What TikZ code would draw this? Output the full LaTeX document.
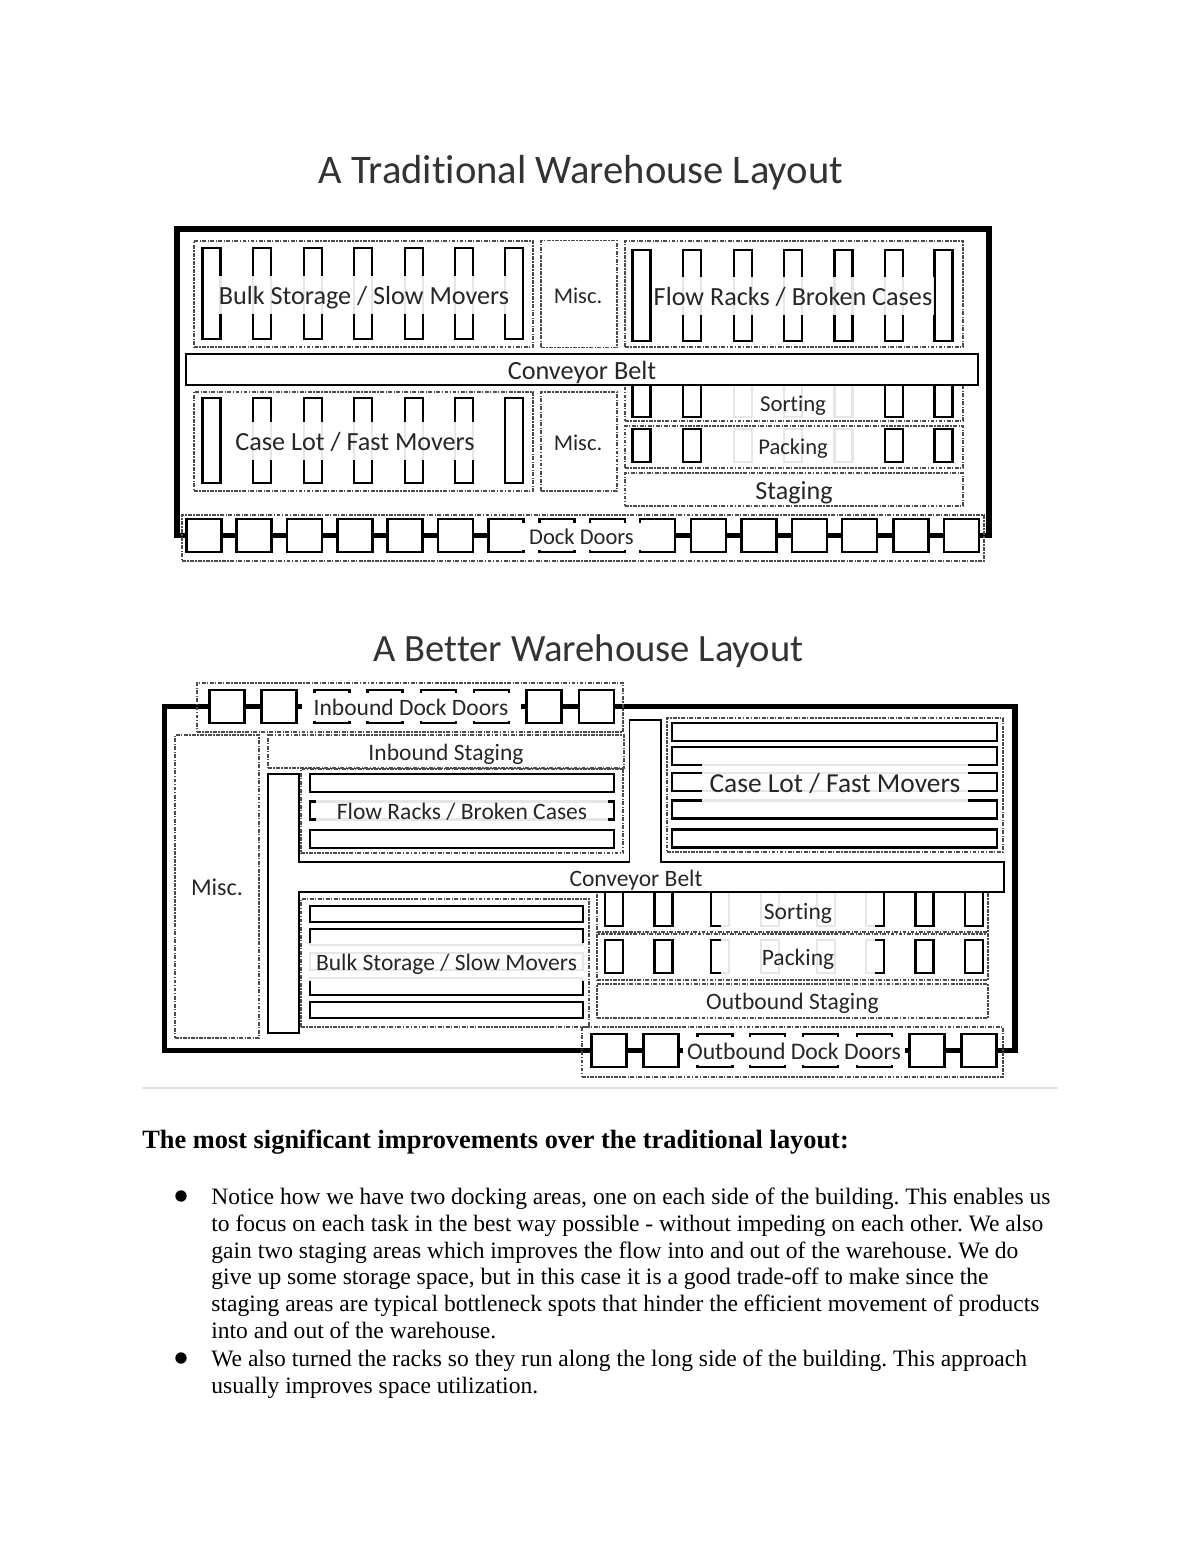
\documentclass[tikz,border=0pt]{standalone}
\usepackage{fontspec}
\setmainfont{Liberation Serif}
\newfontfamily\labelfont[Ligatures=NoCommon]{Carlito}
\usetikzlibrary{positioning}
\newcommand{\px}{0.51pt}
\frenchspacing
\begin{document}
\begin{tikzpicture}[x=0.51pt,y=-0.51pt,
  wh/.style 2 args={minimum width=#1*\px,minimum height=#2*\px,inner sep=0pt,outer sep=0pt},
  wall/.style={line width=2.9pt,line join=miter},
  link/.style={line width=2.3pt},
  door/.style={draw,fill=white,line width=1.5pt,wh={35}{33}},
  rack/.style={draw,line width=1.05pt},
  zone/.style={draw=black!70,line width=0.55pt,dash pattern=on 2pt off 0.7pt on 0.7pt off 0.7pt},
  belt/.style={draw,fill=white,line width=1pt},
  ghost/.style={fill=white,fill opacity=0.9,text opacity=1},
  cover/.style={fill=white},
  lab/.style={font=\labelfont\fontsize{#1}{#1}\selectfont,text height=#1*0.95pt,text depth=#1*0.2pt,inner sep=0pt,text=black!85},
  title/.style={font=\labelfont\fontsize{#1}{24}\selectfont,text=black!80},
  para/.style={font=\fontsize{12}{13.67}\selectfont,align=left,anchor=north west,inner sep=0pt},
  bullet/.style={circle,fill,minimum size=5.8pt,inner sep=0pt}]
\useasboundingbox (0,0) rectangle (1200,1553);

% first layout
\node[title=20.7] (titlea) at (581,173) {A Traditional Warehouse Layout};
\foreach \i/\x in {1/204,2/254,3/304.5,4/355,5/405,6/455.5,7/506,8/557,9/607.5,10/657.5,11/708.5,12/759,13/809.5,14/859.5,15/911,16/961.5}
  \node[door] (da\i) at (\x,535.5) {};
\foreach \a/\b in {1/2,2/3,3/4,4/5,5/6,6/7,7/8,8/9,9/10,10/11,11/12,12/13,13/14,14/15,15/16}
  \draw[link] (da\a) -- (da\b);
\coordinate (wa1) at (177,229);
\coordinate (wa2) at (989,229);
\draw[wall] (da1.west) -| (wa1) -- (wa2) |- (da16.east);
\node[zone,wh={802}{46}] (docka) at (583,538) {};
\node[cover,lab=11.5,wh={121}{27}] (docklabela) at (581.5,536) {Dock Doors};

\node[zone,wh={339}{106}] (bulka) at (363.5,294) {};
\foreach \i/\x in {1/211.5,2/262,3/313,4/363,5/414,6/464,7/514}
  \node[rack,wh={18}{91}] (rb\i) at (\x,293.5) {};
\node[ghost,lab=13.35,wh={289}{38}] (bulklabela) at (364,295) {Bulk Storage / Slow Movers};
\node[zone,wh={76}{107}] (misca) at (579,294) {};
\node[lab=11.5] (misclabela) at (578,295) {Misc.};
\node[zone,wh={338}{106}] (flowa) at (794,294) {};
\foreach \i/\x in {1/641.5,2/692,3/743,4/793,5/843.5,6/894,7/943.5}
  \node[rack,wh={18}{91}] (rf\i) at (\x,295.5) {};
\node[ghost,lab=13.35,wh={282}{38}] (flowlabela) at (793,296) {Flow Racks / Broken Cases};

\node[zone,wh={339}{99}] (casea) at (363.5,441.5) {};
\foreach \i/\x in {1/211.5,2/262,3/313,4/363,5/414,6/464,7/514}
  \node[rack,wh={18}{85}] (rc\i) at (\x,440.5) {};
\node[ghost,lab=13.35,wh={241}{38}] (caselabela) at (355,441) {Case Lot / Fast Movers};
\node[zone,wh={76}{99}] (miscb) at (579,441.5) {};
\node[lab=11.5] (misclabelb) at (578,442) {Misc.};

\node[zone,wh={338}{41}] (sorta) at (794,400.5) {};
\foreach \i/\x in {1/641.5,2/692,3/743,4/793,5/843.5,6/894,7/943.5}
  \node[rack,wh={18}{37}] (rs\i) at (\x,398.5) {};
\node[ghost,lab=11.6,wh={142}{34}] (sortlabela) at (793,403) {Sorting};
\node[zone,wh={338}{42}] (packa) at (794,447) {};
\foreach \i/\x in {1/641.5,2/692,3/743,4/793,5/843.5,6/894,7/943.5}
  \node[rack,wh={18}{33}] (rp\i) at (\x,445.5) {};
\node[ghost,lab=11.5,wh={142}{37}] (packlabela) at (793,446) {Packing};
\node[zone,lab=13.3,wh={338}{33}] (stagea) at (794,489.5) {Staging};
\node[belt,lab=13.4,wh={792}{29}] (belta) at (582,369.5) {Conveyor Belt};

% second layout
\node[title=19.7] (titleb) at (588.5,651) {A Better Warehouse Layout};
\foreach \i/\x in {1/227,2/279,3/332,4/385,5/438.5,6/491.5,7/544,8/596.5}
  \node[door] (di\i) at (\x,706.5) {};
\foreach \a/\b in {1/2,2/3,3/4,4/5,5/6,6/7,7/8}
  \draw[link] (di\a) -- (di\b);
\foreach \i/\x in {1/609,2/661,3/715,4/767.5,5/820.5,6/874.5,7/927,8/979}
  \node[door] (do\i) at (\x,1050.5) {};
\foreach \a/\b in {1/2,2/3,3/4,4/5,5/6,6/7,7/8}
  \draw[link] (do\a) -- (do\b);
\coordinate (wb1) at (164.5,706.5);
\coordinate (wb2) at (1015,706.5);
\draw[wall] (di1.west) -- (wb1) |- (do1.west);
\draw[wall] (di8.east) -- (wb2) |- (do8.east);
\node[zone,wh={426}{49}] (docki) at (410,707.5) {};
\node[cover,lab=12,wh={219}{28}] (docklabeli) at (411,707) {Inbound Dock Doors};
\node[zone,wh={421}{50}] (docko) at (792.5,1052) {};
\node[cover,lab=12.1,wh={222}{28}] (docklabelo) at (794,1051) {Outbound Dock Doors};

\node[zone,lab=12.3,wh={84}{303}] (miscc) at (217,886.5) {Misc.};
\node[zone,lab=12,wh={356}{33}] (stagei) at (446,751.5) {Inbound Staging};

\node[zone,wh={322}{84}] (flowb) at (462,811) {};
\foreach \i/\y in {1/783,2/810.5,3/839}
  \node[rack,wh={304}{18}] (sf\i) at (462,\y) {};
\node[ghost,lab=12,wh={292}{23}] (flowlabelb) at (462,811) {Flow Racks / Broken Cases};

\node[zone,wh={336}{134}] (caseb) at (835,785) {};
\foreach \i/\y in {1/732,2/756,3/782,4/809.5,5/838.5}
  \node[rack,wh={325}{18}] (sc\i) at (834.5,\y) {};
\node[ghost,lab=14,wh={266}{40}] (caselabelb) at (835,782) {Case Lot / Fast Movers};

\node[zone,wh={288}{128}] (bulkb) at (445,963) {};
\foreach \i/\y in {1/914,2/937,3/961.5,4/986.5,5/1010}
  \node[rack,wh={273}{16.5}] (sb\i) at (446.5,\y) {};
\node[ghost,lab=12,wh={279}{38}] (bulklabelb) at (446.5,962) {Bulk Storage / Slow Movers};

\node[zone,wh={391}{50}] (sortb) at (792.5,907) {};
\foreach \i/\x in {1/614,2/663.5,3/720,4/770,5/826,6/875,7/924.5,8/974}
  \node[rack,wh={18}{44}] (ts\i) at (\x,904) {};
\node[ghost,lab=12,wh={154}{38}] (sortlabelb) at (798,911) {Sorting};
\node[zone,wh={391}{46}] (packb) at (792.5,957) {};
\foreach \i/\x in {1/614,2/663.5,3/720,4/770,5/826,6/875,7/924.5,8/974}
  \node[rack,wh={18}{33}] (tp\i) at (\x,956.5) {};
\node[ghost,lab=12,wh={154}{41}] (packlabelb) at (798,957) {Packing};
\node[zone,lab=12,wh={391}{34}] (stageo) at (792.5,1001) {Outbound Staging};

\draw[belt,line join=miter] (268,774) -- (299,774) -- (299,862) -- (629.5,862) -- (629.5,720) -- (661,720) -- (661,862) -- (1004,862) -- (1004,892) -- (299,892) -- (299,1033) -- (268,1033) -- cycle;
\node[lab=12] (beltb) at (636,878) {Conveyor Belt};

% text below the rule
\draw[black!12,line width=1.2pt] (142,1088) -- (1058,1088);
\node[para,font=\bfseries\fontsize{13.45}{15}\selectfont] (head) at (142,1130) {The most significant improvements over the traditional layout:};
\node[bullet] (dota) at (181,1196) {};
\node[para] (parta) at (211,1187.5) {Notice how we have two docking areas, one on each side of the building. This enables us\\
to focus on each task in the best way possible - without impeding on each other. We also\\
gain two staging areas which improves the flow into and out of the warehouse. We do\\
give up some storage space, but in this case it is a good trade-off to make since the\\
staging areas are typical bottleneck spots that hinder the efficient movement of products\\
into and out of the warehouse.};
\node[bullet] (dotb) at (181,1358) {};
\node[para] (partb) at (211,1349.5) {We also turned the racks so they run along the long side of the building. This approach\\
usually improves space utilization.};
\end{tikzpicture}
\end{document}
